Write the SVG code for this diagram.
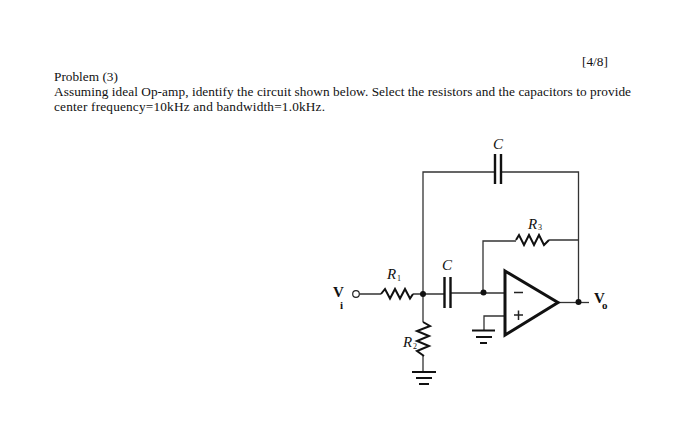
<svg xmlns="http://www.w3.org/2000/svg" width="680" height="448" viewBox="0 0 680 448">
<style>
.t{font:13.3px "Liberation Serif","Times New Roman",serif;fill:#111}
.w{fill:none;stroke:#333;stroke-width:1.3}
.r{fill:none;stroke:#111;stroke-width:2}
.p{fill:none;stroke:#111;stroke-width:2.4}
.g{stroke:#111;stroke-width:2.2}
.d{fill:#111}
.l{font:italic 15px "Liberation Serif",serif;fill:#111}
.s{font:8px "Liberation Serif",serif;fill:#111}
.b{font:bold 15px "Liberation Serif",serif;fill:#111}
.bs{font:bold 11px "Liberation Serif",serif;fill:#111}
</style>
<rect width="680" height="448" fill="#fff"/>
<g id="text">
<text class="t" x="582" y="66">[4/8]</text>
<text class="t" x="54" y="81">Problem (3)</text>
<text class="t" x="54" y="96" textLength="577" lengthAdjust="spacing">Assuming ideal Op-amp, identify the circuit shown below. Select the resistors and the capacitors to provide</text>
<text class="t" x="54" y="111" textLength="271" lengthAdjust="spacing">center frequency=10kHz and bandwidth=1.0kHz.</text>
</g>
<g id="connectors">
<path class="w" d="M423 294V172H495M501 172H578.5V302"/>
<path class="w" d="M483 293V241H516M549 240H578.5"/>
<path class="w" d="M359.500 294H381M413 294H445M450 293H505"/>
<path class="w" d="M423 294V322M423 356V371"/>
<path class="w" d="M505 316H484V330"/>
<path class="w" d="M558 302.500H589"/>
</g>
<g id="vi"><circle cx="356" cy="294" r="3.300" fill="#fff" stroke="#222" stroke-width="1.200"/>
<text class="b" x="333" y="297">V</text><text class="bs" x="340" y="309">i</text></g>
<g id="r1"><path class="r" d="M381 294L385 289L390 298.500L395 289L400 298.500L405 289L410 298.500L413 294"/>
<text class="l" x="387" y="279">R</text><text class="s" x="397" y="281">1</text></g>
<g id="r2"><path class="r" d="M423 322L430 326L417 331L429 336L417 341L429 346L417 351L424 356"/>
<text class="l" x="403" y="347">R</text><text class="s" x="413" y="349">2</text></g>
<g id="r3"><path class="r" d="M516 240L519 235L524 245L529 235L534 245L539 235L544 245L549 240"/>
<text class="l" x="528" y="229">R</text><text class="s" x="538" y="230">3</text></g>
<g id="c1"><path class="p" d="M495 154V184M501 154V184"/><text class="l" x="493" y="149">C</text></g>
<g id="c2"><path class="p" d="M444.500 277V308M450.500 277V308"/><text class="l" x="442" y="270">C</text></g>
<g id="opamp"><path d="M505 271L558 302.500L505 335Z" fill="#fff" stroke="#111" stroke-width="3"/>
<path d="M514 292.500H523M514 315H523M518.500 310.500V320" stroke="#222" stroke-width="1.500" fill="none"/></g>
<g id="n1"><circle class="d" cx="423" cy="294" r="3"/></g>
<g id="n2"><circle class="d" cx="483.500" cy="292.500" r="3"/></g>
<g id="n3"><circle class="d" cx="578.500" cy="302" r="3"/></g>
<g id="vo"><text class="b" x="594" y="303">V</text><text class="bs" x="602" y="309">o</text></g>
<g id="gnd1"><path class="g" d="M472 330.500H495M476 337H492M480 343H487"/></g>
<g id="gnd2"><path class="g" d="M412 372H436M416 378H432M419 384H429"/></g>
</svg>
